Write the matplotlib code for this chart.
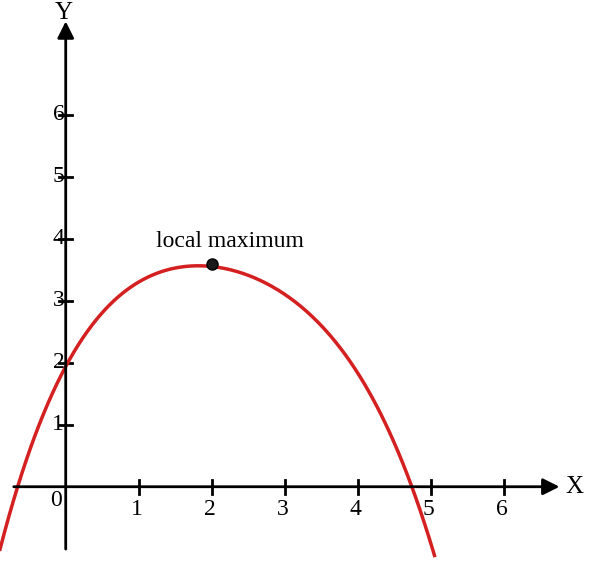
import numpy as np
import matplotlib.pyplot as plt

# points
curve_x = [-0.9, -0.7, -0.4, 0.0, 0.5, 1.0, 1.5, 2.0, 2.5, 3.0, 3.5, 4.0, 4.4, 4.8, 5.05]
curve_y = [-1.15, 0.0, 0.9, 2.0, 2.75, 3.2, 3.5, 3.6, 3.5, 3.15, 2.55, 1.75, 0.9, 0.0, -1.2]
x_ticks = [1, 2, 3, 4, 5, 6]
y_ticks = [1, 2, 3, 4, 5, 6]
peak = (2, 3.6)

plt.rcParams['font.family'] = 'Liberation Serif'

fig = plt.figure(figsize=(5.9, 5.63), dpi=100)
ax = fig.add_axes([0, 0, 1, 1])
ax.set_xlim(-0.9, 7.18)
ax.set_ylim(-1.23, 7.85)
ax.axis('off')

# axes with arrows
ax.annotate('', xy=(6.8, 0), xytext=(-0.75, 0),
            arrowprops=dict(arrowstyle='-|>', color='black', lw=2, mutation_scale=25))
ax.annotate('', xy=(0, 7.55), xytext=(0, -1.05),
            arrowprops=dict(arrowstyle='-|>', color='black', lw=2, mutation_scale=25))

for t in x_ticks:
    ax.plot([t, t], [-0.11, 0.11], color='black', lw=2)
    ax.text(t - 0.03, -0.2, str(t), ha='center', va='top', fontsize=17)
for t in y_ticks:
    ax.plot([-0.09, 0.09], [t, t], color='black', lw=2)
    ax.text(-0.02, t, str(t), ha='right', va='center', fontsize=17)
ax.text(-0.05, -0.05, '0', ha='right', va='top', fontsize=17)
ax.text(6.85, 0, 'X', ha='left', va='center', fontsize=18)
ax.text(-0.02, 7.82, 'Y', ha='center', va='top', fontsize=18)

# smooth curve through the read points
coef = np.polyfit(curve_x, curve_y, 4)
xs = np.linspace(curve_x[0], curve_x[-1], 300)
ax.plot(xs, np.polyval(coef, xs), color='#d42020', lw=2.5)

ax.plot(*peak, 'o', color='#1a1a1a', markersize=8, markeredgecolor='black')
ax.text(peak[0] + 0.25, peak[1] + 0.18, 'local maximum', ha='center', va='bottom', fontsize=17)

fig.savefig('out.png', dpi=100)
